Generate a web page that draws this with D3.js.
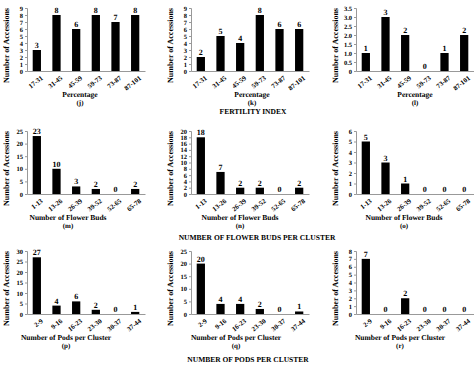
<!DOCTYPE html>
<html><head><meta charset="utf-8">
<script src="https://cdn.jsdelivr.net/npm/d3@7"></script>
<style>
body{margin:0;background:#fff;}
svg{display:block;-webkit-font-smoothing:antialiased;}
text{-webkit-font-smoothing:antialiased;text-rendering:geometricPrecision;}
</style></head><body>
<svg id="c" width="474" height="366" font-family="Liberation Serif, DejaVu Serif, serif" font-weight="bold"></svg>
<script>
// ---- data ----
const pctCats = ["17-31","31-45","45-59","59-73","73-87","87-101"];
const budCats = ["1-13","13-26","26-39","39-52","52-65","65-78"];
const podCats = ["2-9","9-16","16-23","23-30","30-37","37-44"];

const valsJ = [3,8,6,8,7,8];
const valsK = [2,5,4,8,6,6];
const valsL = [1,3,2,0,1,2];
const valsM = [23,10,3,2,0,2];
const valsN = [18,7,2,2,0,2];
const valsO = [5,3,1,0,0,0];
const valsP = [27,4,6,2,0,1];
const valsQ = [20,4,4,2,0,1];
const valsR = [7,0,2,0,0,0];

const ticksJ = [0,1,2,3,4,5,6,7,8,9];
const ticksK = [0,1,2,3,4,5,6,7,8,9];
const ticksL = [0,0.5,1,1.5,2,2.5,3,3.5];
const ticksM = [0,5,10,15,20,25];
const ticksN = [0,2,4,6,8,10,12,14,16,18,20];
const ticksO = [0,1,2,3,4,5,6];
const ticksP = [0,5,10,15,20,25,30];
const ticksQ = [0,5,10,15,20,25];
const ticksR = [0,1,2,3,4,5,6,7,8];

const xTitles = ["Percentage","Number of Flower Buds","Number of Pods per Cluster"];
const panelLetters = ["(j)","(k)","(l)","(m)","(n)","(o)","(p)","(q)","(r)"];
const groupTitles = ["FERTILITY INDEX","NUMBER OF FLOWER BUDS PER CLUSTER","NUMBER OF PODS PER CLUSTER"];
const yTitle = "Number of Accessions";

// ---- layout ----
const colX = [27, 191, 356];
const rowTop = [8, 131, 251];
const rowBase = [71, 194, 314];
const plotW = 118;
const titleCx = [[80,252,415],[68,240,404],[66,236,400]];

const panels = [
  {cats:pctCats, vals:valsJ, ticks:ticksJ},
  {cats:pctCats, vals:valsK, ticks:ticksK},
  {cats:pctCats, vals:valsL, ticks:ticksL, fmt:d=>d===0?"0":d.toFixed(1)},
  {cats:budCats, vals:valsM, ticks:ticksM},
  {cats:budCats, vals:valsN, ticks:ticksN},
  {cats:budCats, vals:valsO, ticks:ticksO},
  {cats:podCats, vals:valsP, ticks:ticksP},
  {cats:podCats, vals:valsQ, ticks:ticksQ},
  {cats:podCats, vals:valsR, ticks:ticksR},
];

const svg = d3.select("#c");
const INK = "#000";

panels.forEach((p,i)=>{
  const r = Math.floor(i/3), c = i%3;
  const x0 = colX[c], top = rowTop[r], base = rowBase[r];
  const x = d3.scaleBand().domain(p.cats).range([x0, x0+plotW]).paddingInner(0.58).paddingOuter(0.29);
  const y = d3.scaleLinear().domain([0, d3.max(p.ticks)]).range([base, top]);
  const g = svg.append("g");

  // y axis
  const ya = g.append("g").attr("transform",`translate(${x0},0)`)
    .call(d3.axisLeft(y).tickValues(p.ticks).tickSize(2).tickPadding(2).tickFormat(p.fmt||d3.format("d")));
  ya.attr("font-family",null).attr("font-size",null);
  ya.select(".domain").attr("stroke","#999").attr("stroke-width",1);
  ya.selectAll(".tick line").attr("stroke","#999");
  ya.selectAll("text").attr("font-size",6.5).attr("fill",INK);

  // x axis
  const xa = g.append("g").attr("transform",`translate(0,${base})`)
    .call(d3.axisBottom(x).tickSize(0).tickPadding(0));
  xa.attr("font-family",null).attr("font-size",null);
  xa.select(".domain").attr("stroke","#999").attr("stroke-width",1);
  xa.selectAll("text").attr("font-size",6.8).attr("fill",INK)
    .attr("text-anchor","end").attr("y",0).attr("dy","0.35em")
    .attr("transform","translate(5,6) rotate(-38)");

  // bars
  g.selectAll("rect.bar").data(p.vals).join("rect")
    .attr("x",(d,j)=>x(p.cats[j])).attr("width",x.bandwidth())
    .attr("y",d=>y(d)).attr("height",d=>base-y(d)).attr("fill",INK);

  // value labels
  g.selectAll("text.v").data(p.vals).join("text").attr("class","v")
    .attr("x",(d,j)=>x(p.cats[j])+x.bandwidth()/2).attr("y",d=>y(d)-2)
    .attr("text-anchor","middle").attr("font-size",8).attr("fill",INK).text(d=>d);

  // y title
  g.append("text").attr("transform",`translate(${x0-18},${(top+base)/2+6}) rotate(-90)`)
    .attr("text-anchor","middle").attr("font-size",8).attr("fill",INK).text(yTitle);

  // x title + letter
  const cx = titleCx[r][c];
  g.append("text").attr("x",cx).attr("y",base+26).attr("text-anchor","middle").attr("font-size",7.5).attr("fill",INK).text(xTitles[r]);
  g.append("text").attr("x",cx).attr("y",base+34).attr("text-anchor","middle").attr("font-size",7).attr("fill",INK).text(panelLetters[i]);
});

// group titles
const gtPos = [[253,114],[257,240],[248,362]];
groupTitles.forEach((t,i)=>{
  svg.append("text").attr("x",gtPos[i][0]).attr("y",gtPos[i][1]).attr("text-anchor","middle")
    .attr("font-size",7.5).attr("fill",INK).text(t);
});
</script>
</body></html>
